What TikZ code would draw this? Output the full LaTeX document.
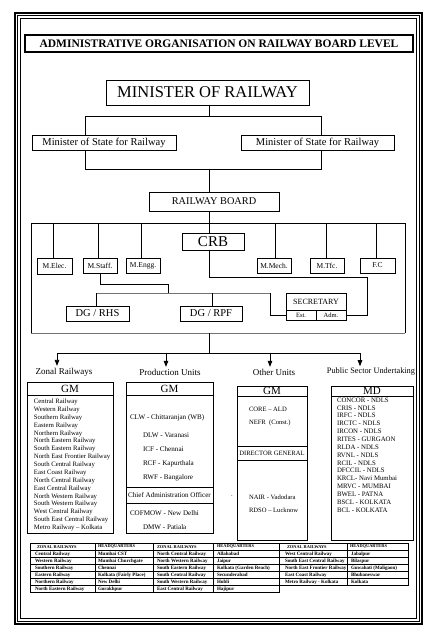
\documentclass[tikz,border=0pt]{standalone}
\usepackage{fontspec}
\setmainfont{Liberation Serif}
\usetikzlibrary{arrows.meta}
\newcommand{\myfs}[1]{\fontsize{#1}{#1}\selectfont}
\newcommand{\mkbox}[7][]{\node[box,#1,minimum width={(#5-#3)*1pt},minimum height={(#6-#4)*1pt}] (#2) at ({(#3+#5)/2},{(#4+#6)/2}) {#7};}
\newcommand{\trow}[8]{%
 \node[tcell] (t#1a) at (35,#2) {#3};
 \node[tcell] (t#1b) at (98,#2) {#4};
 \node[tcell] (t#1c) at (157,#2) {#5};
 \node[tcell] (t#1d) at (217,#2) {#6};
 \node[tcell] (t#1e) at (285,#2) {#7};
 \node[tcell] (t#1f) at (351,#2) {#8};}
\begin{document}
\begin{tikzpicture}[x=1pt,y=-1pt,
 box/.style={draw,line width=0.8pt,inner sep=0pt,outer sep=0pt},
 ln/.style={line width=0.8pt},
 txt/.style={inner sep=0pt,outer sep=0pt},
 item/.style={txt,anchor=west,font=\myfs{7.1}},
 zitem/.style={txt,anchor=west,font=\myfs{6.7}},
 mitem/.style={txt,anchor=west,font=\myfs{6.8}},
 oitem/.style={txt,anchor=west,font=\myfs{6.6}},
 tcell/.style={txt,anchor=west,font=\myfs{5}\bfseries},
 thead/.style={txt,anchor=west,font=\myfs{4.4}\bfseries},
 arr/.style={line width=0.8pt,-{Triangle[width=4.5pt,length=6pt]}}]
\useasboundingbox (0,0) rectangle (428,632);
\fill[white] (0,0) rectangle (428,632);
% frame
\draw[line width=1.8pt] (15,13) rectangle (422,624);
\draw[line width=0.8pt] (17.8,15.8) rectangle (419.2,621.2);
\draw[line width=0.8pt] (20.3,18.3) rectangle (416.7,618.7);
% title
\mkbox[line width=1.6pt,font=\myfs{11.5}\bfseries]{title}{25}{35}{413}{52}{ADMINISTRATIVE ORGANISATION ON RAILWAY BOARD LEVEL}
% ministers
\mkbox[font=\myfs{16.5}]{min}{106}{80}{309}{105}{MINISTER OF RAILWAY}
\mkbox[font=\myfs{10.5}]{mosl}{32}{135}{176}{150}{Minister of State for Railway}
\mkbox[font=\myfs{10.5}]{mosr}{241}{135}{394}{150}{Minister of State for Railway}
\mkbox[font=\myfs{10.3}]{rb}{149}{192}{279}{211}{RAILWAY BOARD}
\coordinate (cx) at (209,0);
\coordinate (ml) at (85,116);
\coordinate (mr) at (321,116);
\coordinate (bl) at (85,169);
\coordinate (br) at (321,169);
\draw[ln] (cx |- min.south) -- (cx |- ml);
\draw[ln] (ml |- mosl.north) -- (ml) -- (mr) -- (mr |- mosr.north);
\draw[ln] (bl |- mosl.south) -- (bl) -- (br) -- (br |- mosr.south);
\draw[ln] (cx |- bl) -- (cx |- rb.north);
% board
\mkbox[draw=none]{brd}{31}{223}{405}{333}{}
\draw[ln] (brd.south west) -- (brd.north west) -- (brd.north east) -- (brd.south east);
\draw[ln,black!55] (brd.south west) -- (brd.south east);
\draw[ln] (cx |- rb.south) -- (cx |- brd.north);
\mkbox[font=\myfs{15}]{crb}{182}{233}{244}{250}{CRB}
\draw[ln] (cx |- brd.north) -- (cx |- crb.north);
\mkbox[font=\myfs{7.5}]{mel}{37}{258}{72}{274}{M.Elec.}
\mkbox[font=\myfs{7.5}]{mst}{83}{258}{117}{273}{M.Staff.}
\mkbox[font=\myfs{7.5}]{men}{126}{258}{160}{273}{M.Engg.}
\mkbox[font=\myfs{7.5}]{mme}{257}{258}{291}{273}{M.Mech.}
\mkbox[font=\myfs{7.5}]{mtf}{310}{258}{344}{273}{M.Tfc.}
\mkbox[font=\myfs{7.5}]{mfc}{360}{258}{395}{273}{F.C}
\foreach \n/\x in {mel/53,mst/98,men/141,mme/275,mtf/326,mfc/376}{
  \coordinate (t\n) at (\x,0);
  \draw[ln] (t\n |- brd.north) -- (t\n |- \n.north);
}
\mkbox[font=\myfs{8}]{sec}{286}{293}{346}{310}{SECRETARY}
\mkbox[font=\myfs{6.5}]{est}{286}{310}{316}{320}{Est.}
\mkbox[font=\myfs{6.5}]{adm}{316}{310}{346}{320}{Adm.}
\mkbox[font=\myfs{10.5}]{dgr}{66}{306}{129}{321}{DG / RHS}
\mkbox[font=\myfs{10.5}]{dgp}{180}{306}{242}{321}{DG / RPF}
\coordinate (cr1) at (209,277);
\coordinate (cr2) at (367,277);
\draw[ln] (cx |- crb.south) -- (cr1) -- (cr2) -- (cr2 |- adm.east) -- (adm.east);
\coordinate (s1) at (100,284);
\coordinate (s2) at (168,284);
\coordinate (s3) at (168,293);
\draw[ln] (mst.south) -- (s1) -- (s2) -- (s3);
\coordinate (g1) at (96,293);
\coordinate (g2) at (270,293);
\coordinate (g3) at (212,293);
\draw[ln,black!55] (g1) -- (g2);
\draw[ln] (g1) -- (g1 |- dgr.north);
\draw[ln] (g3) -- (g3 |- dgp.north);
\draw[ln] (g2) -- (g2 |- est.west) -- (est.west);
% distribution
\coordinate (h0) at (209,353);
\coordinate (h1) at (57,353);
\coordinate (h2) at (166,353);
\coordinate (h3) at (270,353);
\coordinate (h4) at (360,353);
\draw[ln] (cx |- brd.south) -- (h0);
\draw[ln] (h1) -- (h4);
\node[txt,font=\myfs{9}] (lz) at (64,372) {Zonal Railways};
\node[txt,font=\myfs{9}] (lp) at (170,372) {Production Units};
\node[txt,font=\myfs{9}] (lo) at (274,372) {Other Units};
\node[txt,font=\myfs{8.3}] (lu) at (371,372) {Public Sector Undertaking};
\draw[arr] (h1) -- ([yshift=2pt]h1 |- lz.north);
\draw[arr] (h2) -- ([yshift=2pt]h2 |- lp.north);
\draw[arr] (h3) -- ([yshift=2pt]h3 |- lo.north);
\draw[arr] (h4) -- ([yshift=2pt]h4 |- lu.north);
% zonal GM
\mkbox{zgm}{27}{382}{113}{533}{}
\draw[ln] (27,395) -- (113,395);
\node[txt,font=\myfs{11}] (zgmh) at (70,388.8) {GM};
\foreach [count=\i] \t in {Central Railway,Western Railway,Southern Railway,Eastern Railway,Northern Railway,North Eastern Railway,South Eastern Railway,North East Frontier Railway,South Central Railway,East Coast Railway,North Central Railway,East Central Railway,North Western Railway,South Western Railway,West Central Railway,South East Central Railway,Metro Railway – Kolkata}
  \node[zitem] (zi\i) at (34,{402+(\i-1)*7.875}) {\t};
% production GM
\mkbox{pgm}{126}{382}{213}{533}{}
\draw[ln] (126,395) -- (213,395);
\draw[ln] (126,487) -- (213,487);
\draw[ln] (126,503) -- (213,503);
\node[txt,font=\myfs{11}] (pgmh) at (169.5,388.8) {GM};
\node[item] (p1) at (130,418) {CLW - Chittaranjan (WB)};
\node[item] (p2) at (143,435) {DLW - Varanasi};
\node[item] (p3) at (143,449) {ICF - Chennai};
\node[item] (p4) at (143,464) {RCF - Kapurthala};
\node[item] (p5) at (143,478) {RWF - Bangalore};
\node[item,anchor=center] (p6) at (169.5,495) {Chief Administration Officer};
\node[item] (p7) at (130,513) {COFMOW - New Delhi};
\node[item] (p8) at (143,527) {DMW - Patiala};
% other units
\mkbox{ogm}{237}{386}{307}{540}{}
\draw[ln] (237,396) -- (307,396);
\draw[ln] (237,446) -- (307,446);
\draw[ln] (237,460) -- (307,460);
\node[txt,font=\myfs{11}] (ogmh) at (272,391.3) {GM};
\node[oitem] (o1) at (249,409) {CORE – ALD};
\node[oitem] (o2) at (249,423) {NEFR \ (Const.)};
\node[oitem,anchor=center] (o3) at (272,453) {DIRECTOR GENERAL};
\node[oitem] (o4) at (249,497) {NAIR - Vadodara};
\node[oitem] (o5) at (249,510) {RDSO – Lucknow};
\node[oitem] (odot) at (231,496) {.};
% PSU
\mkbox{mdb}{331}{386}{413}{540}{}
\draw[ln] (331,396) -- (413,396);
\node[txt,font=\myfs{11}] (mdh) at (372,391.3) {MD};
\foreach [count=\i] \t in {CONCOR - NDLS,CRIS - NDLS,IRFC - NDLS,IRCTC - NDLS,IRCON - NDLS,RITES - GURGAON,RLDA - NDLS,RVNL - NDLS,RCIL - NDLS,DFCCIL - NDLS,KRCL- Navi Mumbai,MRVC - MUMBAI,BWEL - PATNA,BSCL - KOLKATA,BCL - KOLKATA}
  \node[mitem] (md\i) at (337,{400+(\i-1)*7.86}) {\t};
% table
\foreach \y in {543,550.5,557.5,564.5,571.5,578.5,585.5,592.5}
  \draw[line width=0.6pt] (30,\y) -- (279,\y);
\foreach \y in {543,550.5,557.5,564.5,571.5,578.5,585.5}
  \draw[line width=0.6pt] (279,\y) -- (408,\y);
\foreach \x in {30,95,153,213,279}
  \draw[line width=0.6pt] (\x,543) -- (\x,592.5);
\foreach \x in {347,408}
  \draw[line width=0.6pt] (\x,543) -- (\x,585.5);
\node[thead] (h1a) at (37,546.8) {ZONAL RAILWAYS};
\node[thead] (h1b) at (98,546.8) {HEADQUARTERS};
\node[thead] (h1c) at (157,546.8) {ZONAL RAILWAYS};
\node[thead] (h1d) at (217,546.8) {HEADQUARTERS};
\node[thead] (h1e) at (287,546.8) {ZONAL RAILWAYS};
\node[thead] (h1f) at (350,546.8) {HEADQUARTERS};
\trow{1}{554}{Central Railway}{Mumbai CST}{North Central Railway}{Allahabad}{West Central Railway}{Jabalpur}
\trow{2}{561}{Western Railway}{Mumbai Churchgate}{North Western Railway}{Jaipur}{South East Central Railway}{Bilaspur}
\trow{3}{568}{Southern Railway}{Chennai}{South Eastern Railway}{Kolkata (Garden Reach)}{North East Frontier Railway}{Guwahati (Maligaon)}
\trow{4}{575}{Eastern Railway}{Kolkata (Fairly Place)}{South Central Railway}{Secunderabad}{East Coast Railway}{Bhubaneswar}
\trow{5}{582}{Northern Railway}{New Delhi}{South Western Railway}{Hubli}{Metro Railway - Kolkata}{Kolkata}
\node[tcell] (t6a) at (35,589) {North Eastern Railway};
\node[tcell] (t6b) at (98,589) {Gorakhpur};
\node[tcell] (t6c) at (157,589) {East Central Railway};
\node[tcell] (t6d) at (217,589) {Hajipur};
\end{tikzpicture}
\end{document}
